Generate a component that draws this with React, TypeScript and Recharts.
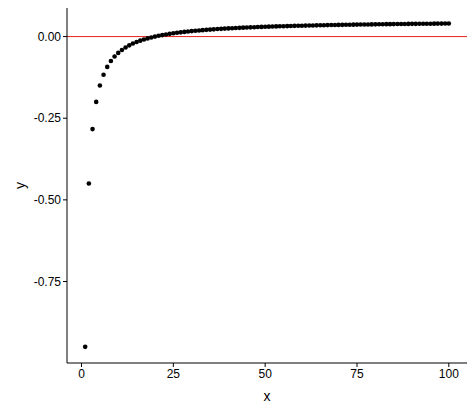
import { ScatterChart, Scatter, XAxis, YAxis, ReferenceLine } from 'recharts';

// x runs 1..100, y
const xValues = Array.from({ length: 100 }, (_, i) => i + 1);

const yValues = [
  -0.95, -0.45, -0.2833, -0.2, -0.15, -0.1167, -0.0929, -0.075, -0.0611, -0.05,
  -0.0409, -0.0333, -0.0269, -0.0214, -0.0167, -0.0125, -0.0088, -0.0056, -0.0026, 0,
  0.0024, 0.0045, 0.0065, 0.0083, 0.01, 0.0115, 0.013, 0.0143, 0.0155, 0.0167,
  0.0177, 0.0188, 0.0197, 0.0206, 0.0214, 0.0222, 0.023, 0.0237, 0.0244, 0.025,
  0.0256, 0.0262, 0.0267, 0.0273, 0.0278, 0.0283, 0.0287, 0.0292, 0.0296, 0.03,
  0.0304, 0.0308, 0.0311, 0.0315, 0.0318, 0.0321, 0.0325, 0.0328, 0.0331, 0.0333,
  0.0336, 0.0339, 0.0341, 0.0344, 0.0346, 0.0348, 0.0351, 0.0353, 0.0355, 0.0357,
  0.0359, 0.0361, 0.0363, 0.0365, 0.0367, 0.0368, 0.037, 0.0372, 0.0373, 0.0375,
  0.0377, 0.0378, 0.038, 0.0381, 0.0382, 0.0384, 0.0385, 0.0386, 0.0388, 0.0389,
  0.039, 0.0391, 0.0392, 0.0394, 0.0395, 0.0396, 0.0397, 0.0398, 0.0399, 0.04,
];

const xTicks = [0, 25, 50, 75, 100];
const yTicks = [-0.75, -0.5, -0.25, 0];

const data = xValues.map((x, i) => ({ x, y: yValues[i] }));

const font = '"Liberation Sans", Arial, sans-serif';

const App = () => {
  return (
    <div style={{ position: 'absolute', left: 0, top: 0, background: '#fff' }}>
      <ScatterChart
        width={474}
        height={412}
        margin={{ top: 8, right: 7, left: 0, bottom: 0 }}
        style={{ fontFamily: font }}
      >
        <XAxis
          type="number"
          dataKey="x"
          domain={[-3.95, 104.95]}
          ticks={xTicks}
          allowDataOverflow
          height={49}
          stroke="#000"
          tickSize={4}
          tickMargin={2}
          tick={{ fill: '#000', fontSize: 12, fontFamily: font }}
          label={{ value: 'x', position: 'insideBottom', offset: 11, fill: '#000', fontSize: 14, fontFamily: font }}
        />
        <YAxis
          type="number"
          dataKey="y"
          domain={[-0.9995, 0.0875]}
          ticks={yTicks}
          allowDataOverflow
          width={67}
          stroke="#000"
          tickSize={4}
          tickMargin={2}
          tickFormatter={(v: number) => v.toFixed(2)}
          tick={{ fill: '#000', fontSize: 12, fontFamily: font }}
          label={{ value: 'y', angle: -90, position: 'insideLeft', offset: 20, fill: '#000', fontSize: 14, fontFamily: font, style: { textAnchor: 'middle' } }}
        />
        <ReferenceLine y={0} stroke="#e8221b" strokeWidth={1} />
        <Scatter
          data={data}
          fill="#000"
          isAnimationActive={false}
          shape={(props: any) => <circle cx={props.cx} cy={props.cy} r={2.3} fill="#000" />}
        />
      </ScatterChart>
    </div>
  );
};

export default App;
